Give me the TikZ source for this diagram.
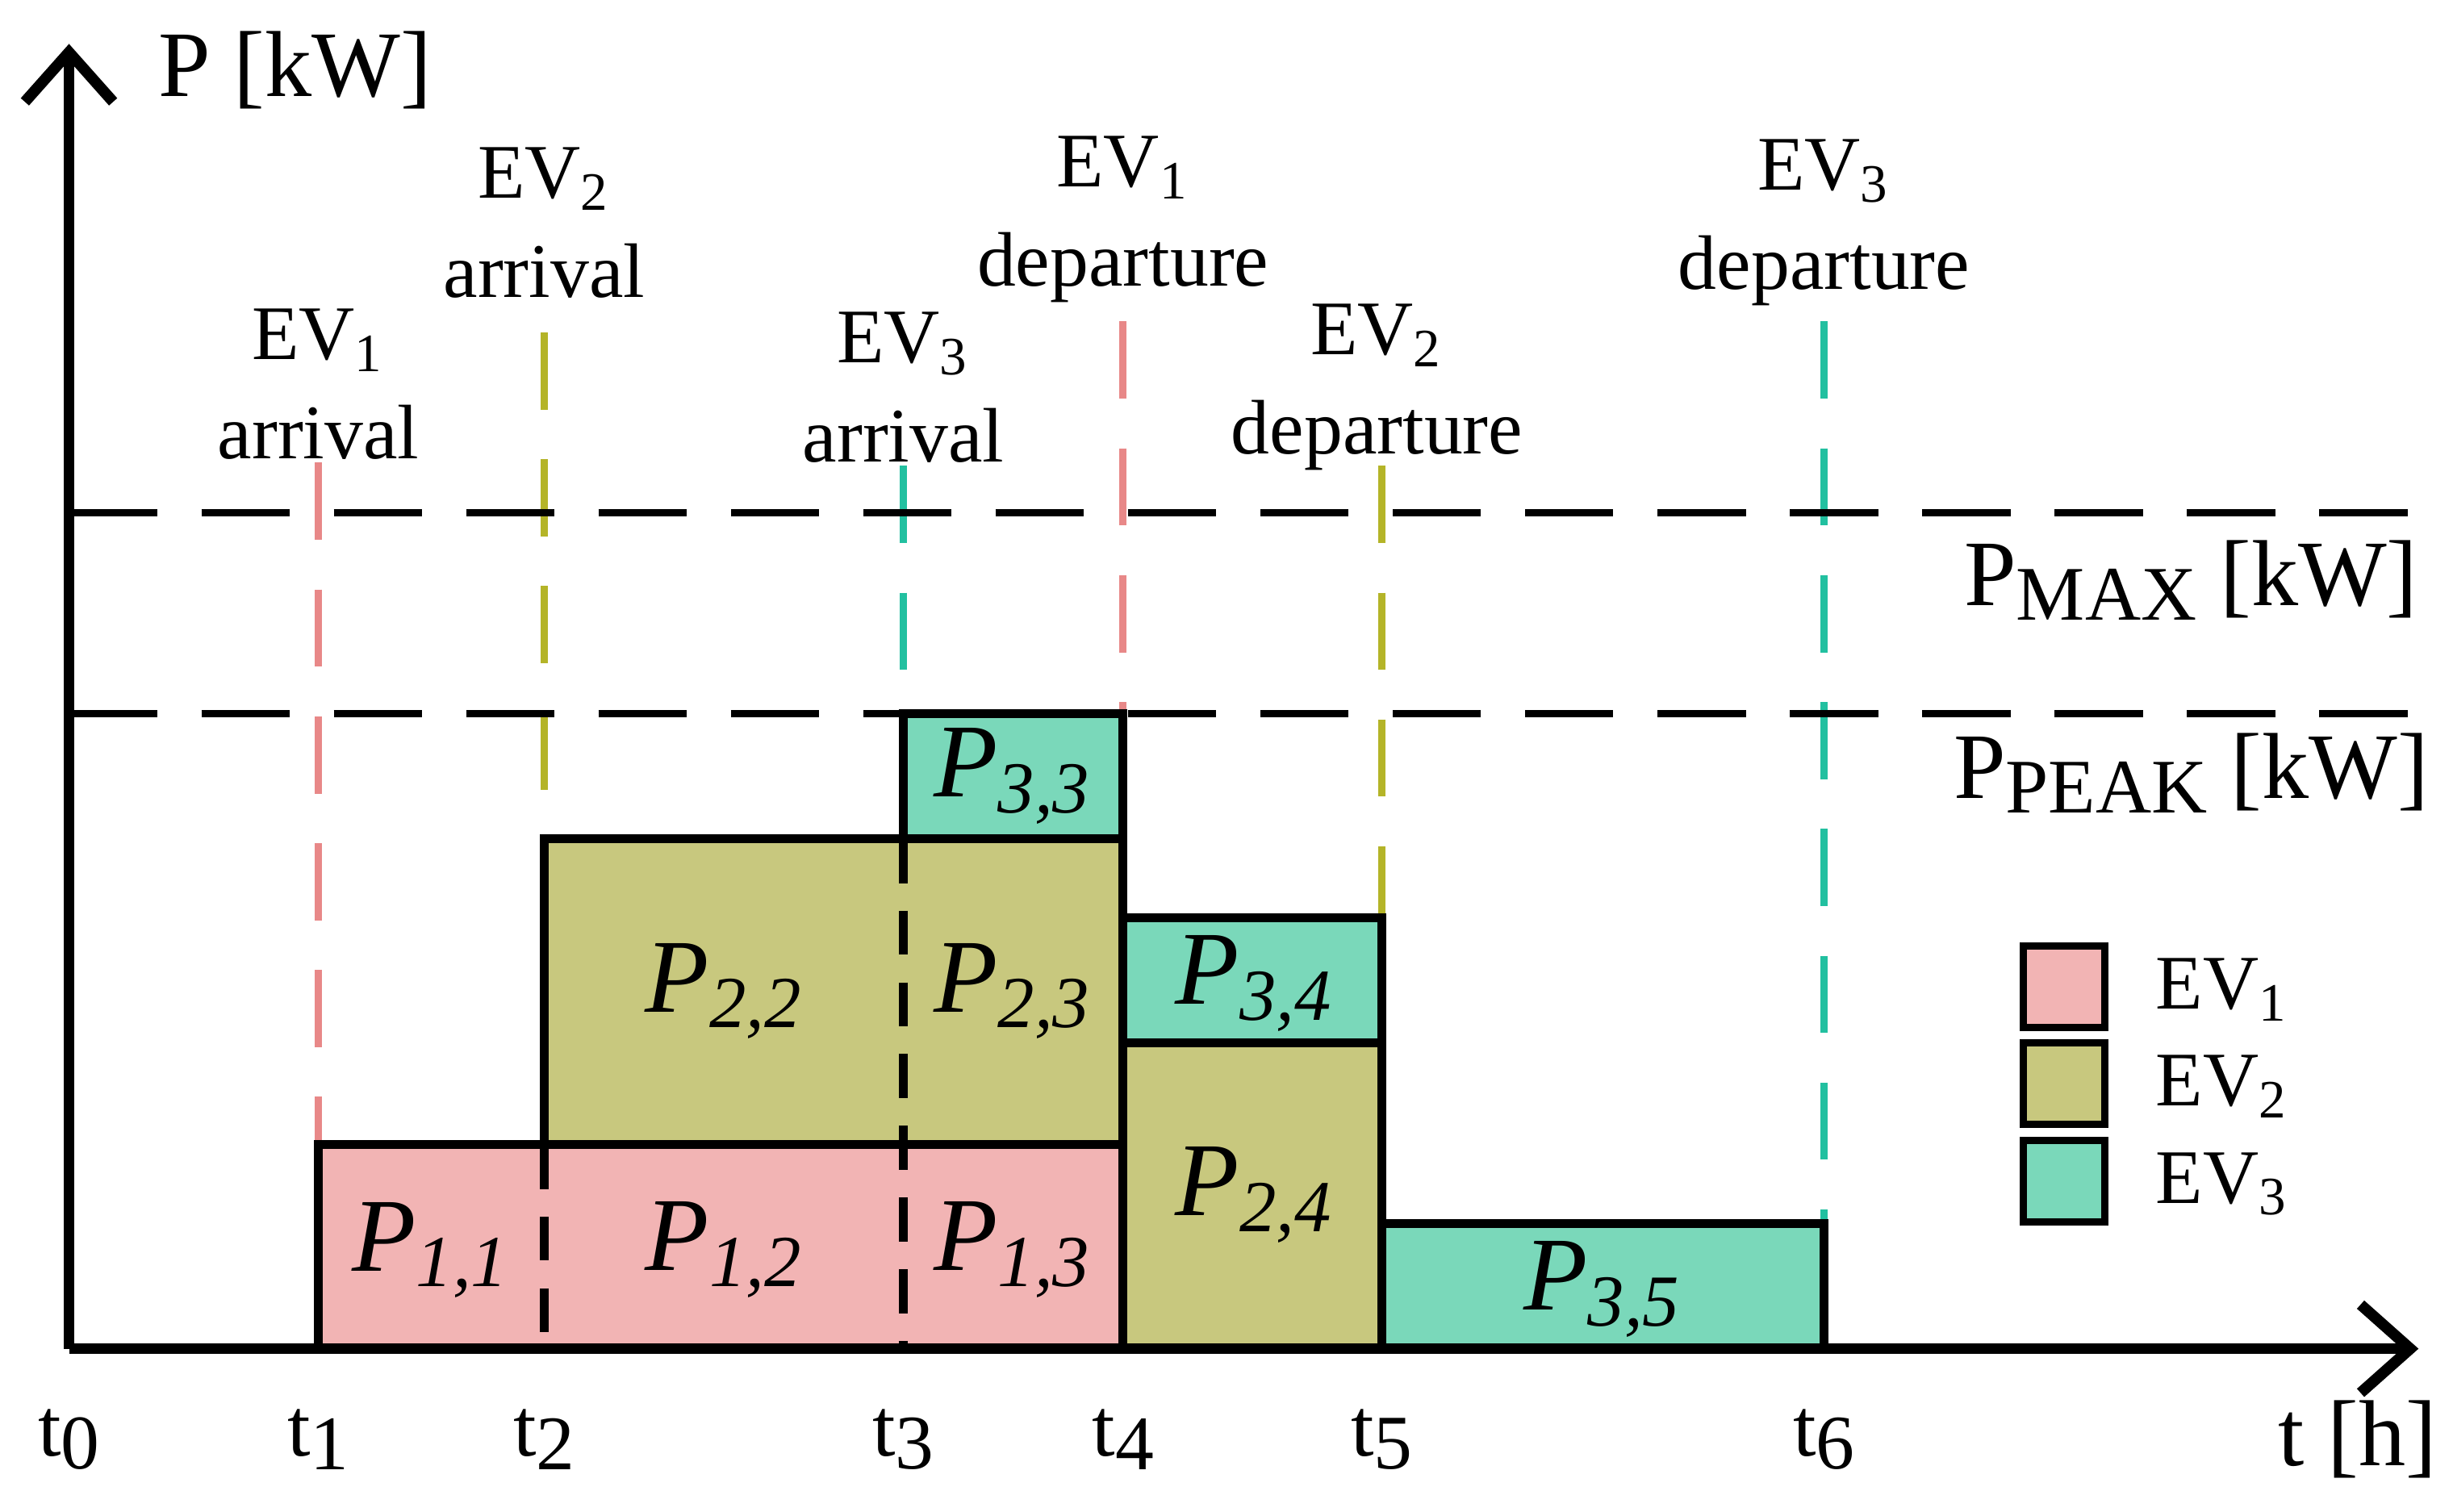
\documentclass[tikz,border=0pt]{standalone}
\usepackage{fontspec}
\setmainfont{Liberation Serif}
\usetikzlibrary{arrows.meta}
\definecolor{rf}{HTML}{F2B4B4}\definecolor{of}{HTML}{C8C87E}\definecolor{tf}{HTML}{7AD8BA}
\definecolor{rline}{HTML}{E88888}\definecolor{oline}{HTML}{B4B428}\definecolor{tline}{HTML}{22C0A0}
\newcommand{\sbs}[1]{\textsubscript{#1}}
\newcommand{\bsub}[1]{\raisebox{-0.35ex}{\fontsize{14}{14}\selectfont #1}}
\tikzset{box/.style={draw=black,line width=1.6pt},
 vd/.style={dash pattern=on 14pt off 9pt,line width=1.3pt},
 lab/.style={font=\fontsize{14}{18}\selectfont,align=center},
 pl/.style={font=\fontsize{19}{19}\selectfont\itshape},
 tlab/.style={font=\fontsize{15}{15}\selectfont},
 big/.style={font=\fontsize{17}{17}\selectfont}}
\begin{document}
\begin{tikzpicture}[x=0.01cm,y=-0.01cm]
\useasboundingbox (0,0) rectangle (1564,964);
% colored verticals
\draw[vd,rline] (203,295)--(203,730);
\draw[vd,oline] (347,212)--(347,535);
\draw[vd,tline] (576,297)--(576,455);
\draw[vd,rline] (716,205)--(716,455);
\draw[vd,oline] (881,297)--(881,585);
\draw[vd,tline] (1163,205)--(1163,780);
% limit lines
\draw[dash pattern=on 16pt off 8pt,line width=1.4pt] (44,327)--(1545,327);
\draw[dash pattern=on 16pt off 8pt,line width=1.4pt] (44,455)--(1545,455);
% boxes
\draw[box,fill=rf] (203,730) rectangle (716,860);
\draw[box,fill=of] (347,535) rectangle (716,730);
\draw[box,fill=tf] (576,455) rectangle (716,535);
\draw[box,fill=tf] (716,585) rectangle (881,665);
\draw[box,fill=of] (716,665) rectangle (881,860);
\draw[box,fill=tf] (881,780) rectangle (1163,860);
\draw[line width=1.6pt,dash pattern=on 8pt off 5pt] (347,730)--(347,860) (576,535)--(576,860);
\node[pl] (p11) at (275,797) {P\textsubscript{1,1}};
\node[pl] (p12) at (462,797) {P\textsubscript{1,2}};
\node[pl] (p13) at (646,797) {P\textsubscript{1,3}};
\node[pl] (p22) at (462,632) {P\textsubscript{2,2}};
\node[pl] (p23) at (646,632) {P\textsubscript{2,3}};
\node[pl] (p33) at (646,495) {P\textsubscript{3,3}};
\node[pl] (p34) at (800,627) {P\textsubscript{3,4}};
\node[pl] (p24) at (800,762) {P\textsubscript{2,4}};
\node[pl] (p35) at (1022,822) {P\textsubscript{3,5}};
% axes
\draw[line width=2pt,-{Straight Barb[length=9pt,width=16pt]}] (44,860)--(44,28);
\draw[line width=2pt,-{Straight Barb[length=9pt,width=16pt]}] (44,860)--(1542,860);
\node[big] (py) at (188,45) {P [kW]};
\foreach \x/\n in {44/0,203/1,347/2,576/3,716/4,881/5,1163/6}
  \node[tlab] (t\n) at (\x,918) {t\bsub{\n}};
\node[big] (th) at (1503,918) {t [h]};
% event labels
\node[lab] (a1) at (203,245) {EV\sbs{1}\\arrival};
\node[lab] (a2) at (347,142) {EV\sbs{2}\\arrival};
\node[lab] (a3) at (576,247) {EV\sbs{3}\\arrival};
\node[lab] (d1) at (716,140) {EV\sbs{1}\\departure};
\node[lab] (d2) at (878,247) {EV\sbs{2}\\departure};
\node[lab] (d3) at (1163,142) {EV\sbs{3}\\departure};
\node[big] (pmax) at (1397,370) {P\bsub{MAX} [kW]};
\node[big] (ppk) at (1397,493) {P\bsub{PEAK} [kW]};
% legend
\draw[box,line width=1.3pt,fill=rf] (1290,603) rectangle (1342,655);
\draw[box,line width=1.3pt,fill=of] (1290,665) rectangle (1342,717);
\draw[box,line width=1.3pt,fill=tf] (1290,727) rectangle (1342,779);
\node[lab,anchor=west] (l1) at (1362,631) {EV\sbs{1}};
\node[lab,anchor=west] (l2) at (1362,693) {EV\sbs{2}};
\node[lab,anchor=west] (l3) at (1362,755) {EV\sbs{3}};
\end{tikzpicture}
\end{document}
